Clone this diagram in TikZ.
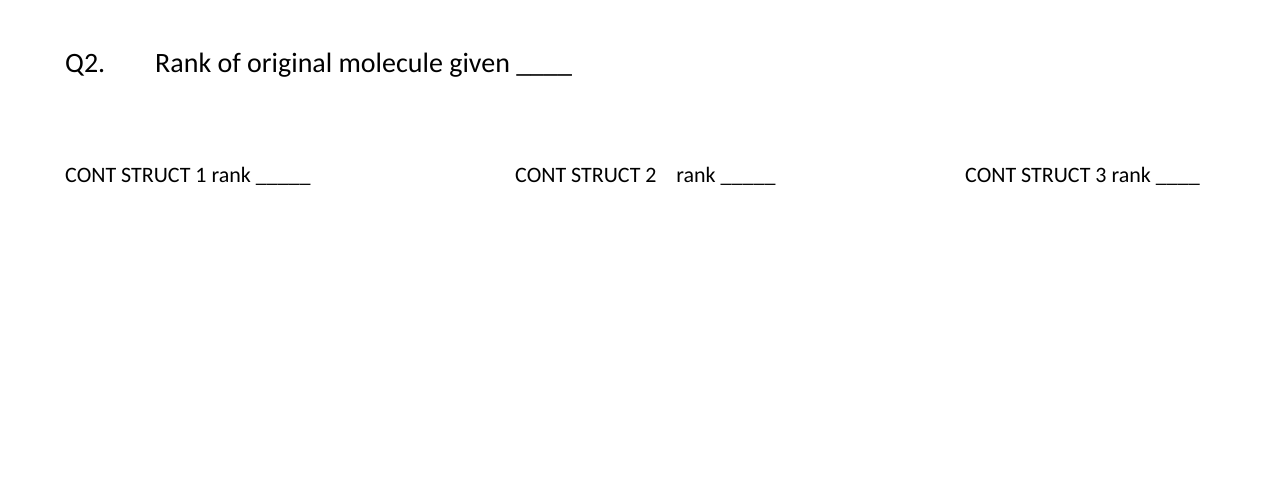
\documentclass[tikz,border=0pt]{standalone}
\usepackage{fontspec}
\setmainfont{Carlito}
\begin{document}
\begin{tikzpicture}[x=1pt,y=-1pt,
  big/.style={anchor=base west,inner sep=0pt,font=\fontsize{28}{32}\selectfont},
  small/.style={anchor=base west,inner sep=0pt,font=\fontsize{22}{26}\selectfont}]
\useasboundingbox (0,0) rectangle (1268,500);
\node[big] (q) at (65,73) {Q2.};
\node[big] (r) at (155,73) {Rank of original molecule given \_\_\_\_};
\node[small] (c1) at (65,182) {CONT STRUCT 1 rank \_\_\_\_\_};
\node[small] (c2) at (515,182) {CONT STRUCT 2\hspace{0.9em}rank \_\_\_\_\_};
\node[small] (c3) at (965,182) {CONT STRUCT 3 rank \_\_\_\_};
\end{tikzpicture}
\end{document}
